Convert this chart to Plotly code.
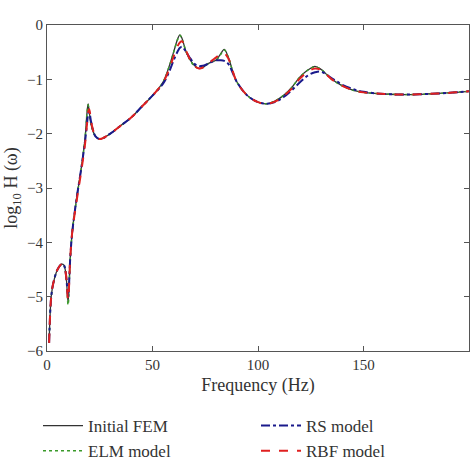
import plotly.graph_objects as go

freq = [1, 2, 3, 5, 7, 8, 9, 10, 11, 12, 14, 16, 18, 19, 19.5, 20, 21, 23, 25, 30, 35, 40, 45, 50,
        55, 58, 60, 62, 63, 64, 66, 68, 70, 72, 74, 76, 78, 80, 82, 84, 86, 88, 90, 95, 100,
        104, 108, 112, 116, 120, 124, 127, 130, 135, 140, 145, 150, 160, 170, 180, 190, 200]

fem = [-5.85, -5.0, -4.75, -4.5, -4.4, -4.42, -4.6, -5.1, -4.3, -3.8, -3.2, -2.7, -2.1, -1.6, -1.45,
       -1.6, -1.85, -2.05, -2.1, -2.0, -1.85, -1.7, -1.5, -1.3, -1.05, -0.75, -0.5, -0.25, -0.18,
       -0.25, -0.5, -0.65, -0.75, -0.8, -0.78, -0.72, -0.68, -0.65, -0.55, -0.45, -0.6, -0.85,
       -1.05, -1.3, -1.42, -1.45, -1.4, -1.3, -1.15, -0.95, -0.82, -0.76, -0.82, -1.0, -1.12,
       -1.2, -1.24, -1.27, -1.28, -1.27, -1.25, -1.22]

elm = [-5.85, -5.0, -4.75, -4.5, -4.4, -4.42, -4.6, -5.15, -4.3, -3.8, -3.2, -2.7, -2.1, -1.6, -1.47,
       -1.6, -1.85, -2.05, -2.1, -2.0, -1.85, -1.7, -1.5, -1.3, -1.05, -0.75, -0.5, -0.26, -0.19,
       -0.26, -0.5, -0.66, -0.76, -0.8, -0.78, -0.72, -0.68, -0.65, -0.56, -0.46, -0.6, -0.85,
       -1.05, -1.3, -1.42, -1.45, -1.4, -1.3, -1.15, -0.95, -0.82, -0.77, -0.82, -1.0, -1.12,
       -1.2, -1.24, -1.27, -1.28, -1.27, -1.25, -1.22]

rs = [-5.85, -5.0, -4.75, -4.5, -4.4, -4.42, -4.6, -5.0, -4.3, -3.8, -3.2, -2.7, -2.15, -1.8, -1.65,
      -1.6, -1.8, -2.05, -2.1, -2.0, -1.85, -1.7, -1.5, -1.3, -1.08, -0.85, -0.65, -0.48, -0.42,
      -0.4, -0.5, -0.62, -0.72, -0.76, -0.75, -0.72, -0.68, -0.65, -0.65, -0.66, -0.72, -0.88,
      -1.05, -1.3, -1.42, -1.45, -1.42, -1.33, -1.2, -1.05, -0.92, -0.87, -0.86, -0.98, -1.1,
      -1.18, -1.23, -1.27, -1.28, -1.27, -1.25, -1.22]

rbf = [-5.85, -5.0, -4.75, -4.5, -4.4, -4.42, -4.6, -5.05, -4.3, -3.8, -3.25, -2.75, -2.2, -1.8, -1.6,
       -1.55, -1.8, -2.05, -2.1, -2.0, -1.85, -1.7, -1.5, -1.3, -1.06, -0.8, -0.58, -0.38, -0.32,
       -0.3, -0.48, -0.65, -0.76, -0.8, -0.78, -0.72, -0.66, -0.6, -0.54, -0.52, -0.62, -0.85,
       -1.05, -1.3, -1.42, -1.45, -1.41, -1.31, -1.17, -0.98, -0.85, -0.8, -0.83, -1.0, -1.12,
       -1.2, -1.24, -1.27, -1.28, -1.27, -1.25, -1.22]

fig = go.Figure()
fig.add_trace(go.Scatter(x=freq, y=fem, mode="lines", name="Initial FEM", legendrank=1,
                         line=dict(color="#333333", width=1.3, shape="spline")))
fig.add_trace(go.Scatter(x=freq, y=elm, mode="lines", name="ELM model", legendrank=3,
                         line=dict(color="#3a9a2a", width=1.5, dash="dot", shape="spline")))
fig.add_trace(go.Scatter(x=freq, y=rs, mode="lines", name="RS model", legendrank=2,
                         line=dict(color="#1a1a8c", width=2, dash="dashdot", shape="spline")))
fig.add_trace(go.Scatter(x=freq, y=rbf, mode="lines", name="RBF model", legendrank=4,
                         line=dict(color="#e02020", width=2, dash="dash", shape="spline")))

axis_style = dict(showline=True, linecolor="#555555", linewidth=1, mirror="ticks",
                  ticks="inside", ticklen=5, tickcolor="#555555", showgrid=False, zeroline=False,
                  automargin=False, tickfont=dict(size=15))

fig.update_layout(
    width=474, height=474,
    margin=dict(l=47, r=5, t=25, b=116),
    plot_bgcolor="white", paper_bgcolor="white",
    font=dict(family="Liberation Serif", size=15, color="#333333"),
    xaxis=dict(range=[0, 200], dtick=50, title=dict(text="Frequency (Hz)", standoff=6), **axis_style),
    yaxis=dict(range=[-6, 0], dtick=1, title=dict(text="log<sub>10</sub> H (ω)", standoff=4), **axis_style),
    legend=dict(orientation="h", x=-0.02, y=-0.175, xanchor="left", yanchor="top",
                entrywidth=163, entrywidthmode="pixels", font=dict(size=17),
                itemwidth=40, tracegroupgap=0),
)

fig.write_html("out.html", post_script="document.body.style.margin='0';",
               config={"displayModeBar": False})
